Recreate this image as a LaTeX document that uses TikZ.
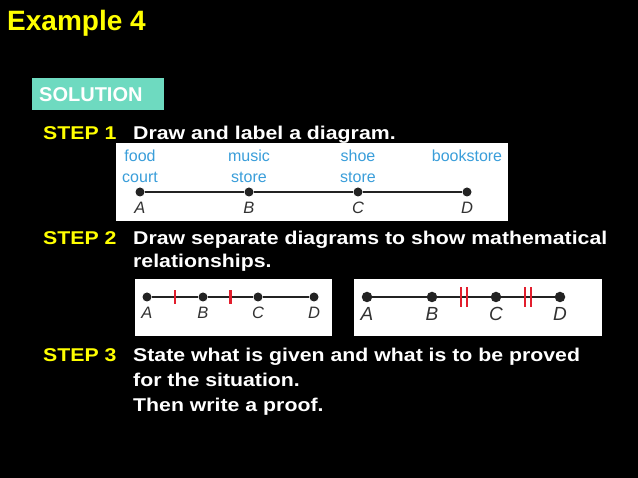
\documentclass[tikz,border=0pt]{standalone}
\usepackage{fontspec}
\setmainfont{Liberation Sans}
\newfontfamily\stepfont{Liberation Sans}[FakeStretch=1.15]
\usepackage{xcolor}
\usetikzlibrary{positioning}

\definecolor{slideyellow}{RGB}{255,255,0}
\definecolor{solteal}{RGB}{110,218,192}
\definecolor{placeblue}{RGB}{58,158,218}
\definecolor{tickred}{RGB}{226,30,45}
\definecolor{segcol}{RGB}{35,35,35}
\definecolor{lettercol}{RGB}{50,50,50}

\tikzset{
  steplabel/.style={anchor=base west, inner sep=0, text=slideyellow,
    font=\stepfont\fontsize{18.5}{22}\selectfont\bfseries},
  steptext/.style={anchor=base west, inner sep=0, text=white,
    font=\stepfont\fontsize{18.5}{22}\selectfont\bfseries},
  panel/.style={fill=white},
  seg/.style={draw=segcol, line width=2.2pt},
  segdot/.style={circle, fill=segcol, inner sep=0, minimum size=9pt},
  bigdot/.style={circle, fill=segcol, inner sep=0, minimum size=10.5pt},
  place/.style={anchor=north, inner sep=0, text=placeblue, align=center,
    font=\fontsize{16}{21}\selectfont},
  ptlabel/.style={inner sep=0, text=lettercol, font=\fontsize{16.5}{18}\selectfont\itshape},
  bigptlabel/.style={inner sep=0, text=lettercol, font=\fontsize{19}{21}\selectfont\itshape},
  tick1/.style={rectangle, fill=tickred, inner sep=0, minimum width=2.2pt, minimum height=14pt},
  tick2/.style={rectangle, fill=tickred, inner sep=0, minimum width=2.8pt, minimum height=20pt}
}

\begin{document}
\begin{tikzpicture}[x=1pt, y=-1pt]
  \fill[black] (0,0) rectangle (638,478);
  \useasboundingbox (0,0) rectangle (638,478);

  % heading
  \node[anchor=base west, inner sep=0, text=slideyellow,
    font=\fontsize{28}{30}\selectfont\bfseries] (title) at (7,31) {Example 4};
  \node[anchor=north west, fill=solteal, text=white, minimum height=32pt,
    text width=118pt, inner xsep=7pt, inner ysep=0pt,
    font=\fontsize{20}{22}\selectfont\bfseries] (sol) at (32,78) {SOLUTION};

  % steps
  \node[steplabel] (st1) at (43,140) {STEP 1};
  \node[steptext] (t1) at (133,140) {Draw and label a diagram.};
  \node[steplabel] (st2) at (43,245) {STEP 2};
  \node[steptext] (t2a) at (133,245) {Draw separate diagrams to show mathematical};
  \node[steptext] (t2b) at (133,268) {relationships.};
  \node[steplabel] (st3) at (43,362) {STEP 3};
  \node[steptext] (t3a) at (133,362) {State what is given and what is to be proved};
  \node[steptext] (t3b) at (133,387) {for the situation.};
  \node[steptext] (t3c) at (133,412) {Then write a proof.};

  % diagram 1
  \fill[panel] (116,143) rectangle (508,221);
  \node[segdot] (a1) at (140,192) {};
  \node[segdot] (b1) at (249,192) {};
  \node[segdot] (c1) at (358,192) {};
  \node[segdot] (d1) at (467,192) {};
  \draw[seg] (a1) -- (b1);
  \draw[seg] (b1) -- (c1);
  \draw[seg] (c1) -- (d1);
  \node[place] (na) at (140,150) {food\\court};
  \node[place] (nb) at (249,150) {music\\store};
  \node[place] (nc) at (358,150) {shoe\\store};
  \node[place] (nd) at (467,150) {bookstore};
  \node[ptlabel, below=5pt of a1] (la1) {A};
  \node[ptlabel, below=5pt of b1] (lb1) {B};
  \node[ptlabel, below=5pt of c1] (lc1) {C};
  \node[ptlabel, below=5pt of d1] (ld1) {D};

  % diagram 2, single ticks
  \fill[panel] (135,279) rectangle (332,336);
  \node[segdot] (a2) at (147,297) {};
  \node[segdot] (b2) at (203,297) {};
  \node[segdot] (c2) at (258,297) {};
  \node[segdot] (d2) at (314,297) {};
  \draw[seg] (a2) -- node[tick1] {} (b2);
  \draw[seg] (b2) -- node[tick1] {} (c2);
  \draw[seg] (c2) -- (d2);
  \node[ptlabel, below=5pt of a2] (la2) {A};
  \node[ptlabel, below=5pt of b2] (lb2) {B};
  \node[ptlabel, below=5pt of c2] (lc2) {C};
  \node[ptlabel, below=5pt of d2] (ld2) {D};

  % diagram 3, double ticks
  \fill[panel] (354,279) rectangle (602,336);
  \node[bigdot] (a3) at (367,297) {};
  \node[bigdot] (b3) at (432,297) {};
  \node[bigdot] (c3) at (496,297) {};
  \node[bigdot] (d3) at (560,297) {};
  \draw[seg] (a3) -- (b3);
  \draw[seg] (b3) -- node[tick2, xshift=-3pt] {} node[tick2, xshift=3pt] {} (c3);
  \draw[seg] (c3) -- node[tick2, xshift=-3pt] {} node[tick2, xshift=3pt] {} (d3);
  \node[bigptlabel, below=5pt of a3] (la3) {A};
  \node[bigptlabel, below=5pt of b3] (lb3) {B};
  \node[bigptlabel, below=5pt of c3] (lc3) {C};
  \node[bigptlabel, below=5pt of d3] (ld3) {D};
\end{tikzpicture}
\end{document}
